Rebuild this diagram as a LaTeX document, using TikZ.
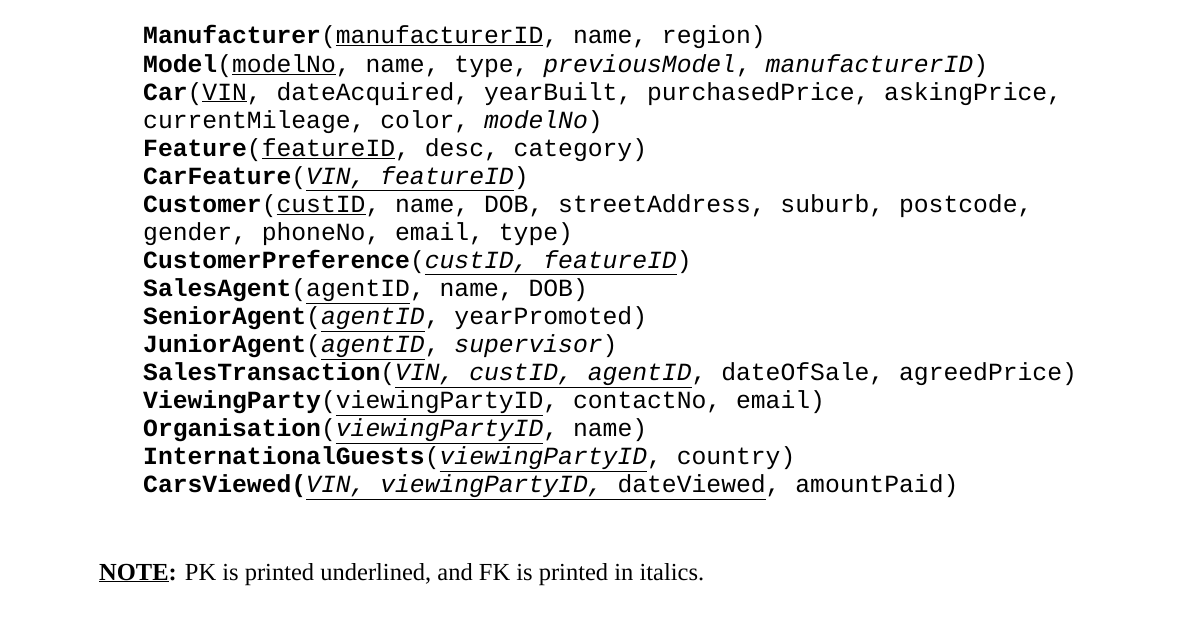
\documentclass[tikz,border=0pt]{standalone}
\usepackage{fontspec}
\setmainfont{Liberation Serif}
\setmonofont{Liberation Mono}
\begin{document}
\begin{tikzpicture}[x=1pt,y=1pt,
  rel/.style={anchor=base west,inner sep=0pt,font=\fontsize{24.7}{28}\ttfamily},
  note/.style={anchor=base west,inner sep=0pt,font=\fontsize{24.5}{28}\rmfamily}]
\useasboundingbox (0,0) rectangle (1204,-642);
\def\ls{28.06}
\def\by{-44}
\node[rel] (l1) at (143,\by) {\textbf{Manufacturer}(\underline{manufacturerID}, name, region)};
\node[rel] (l2) at (143,\by-1*\ls) {\textbf{Model}(\underline{modelNo}, name, type, \textit{previousModel}, \textit{manufacturerID})};
\node[rel] (l3) at (143,\by-2*\ls) {\textbf{Car}(\underline{VIN}, dateAcquired, yearBuilt, purchasedPrice, askingPrice,};
\node[rel] (l4) at (143,\by-3*\ls) {currentMileage, color, \textit{modelNo})};
\node[rel] (l5) at (143,\by-4*\ls) {\textbf{Feature}(\underline{featureID}, desc, category)};
\node[rel] (l6) at (143,\by-5*\ls) {\textbf{CarFeature}(\underline{\textit{VIN, featureID}})};
\node[rel] (l7) at (143,\by-6*\ls) {\textbf{Customer}(\underline{custID}, name, DOB, streetAddress, suburb, postcode,};
\node[rel] (l8) at (143,\by-7*\ls) {gender, phoneNo, email, type)};
\node[rel] (l9) at (143,\by-8*\ls) {\textbf{CustomerPreference}(\underline{\textit{custID, featureID}})};
\node[rel] (l10) at (143,\by-9*\ls) {\textbf{SalesAgent}(\underline{agentID}, name, DOB)};
\node[rel] (l11) at (143,\by-10*\ls) {\textbf{SeniorAgent}(\underline{\textit{agentID}}, yearPromoted)};
\node[rel] (l12) at (143,\by-11*\ls) {\textbf{JuniorAgent}(\underline{\textit{agentID}}, \textit{supervisor})};
\node[rel] (l13) at (143,\by-12*\ls) {\textbf{SalesTransaction}(\underline{\textit{VIN, custID, agentID}}, dateOfSale, agreedPrice)};
\node[rel] (l14) at (143,\by-13*\ls) {\textbf{ViewingParty}(\underline{viewingPartyID}, contactNo, email)};
\node[rel] (l15) at (143,\by-14*\ls) {\textbf{Organisation}(\underline{\textit{viewingPartyID}}, name)};
\node[rel] (l16) at (143,\by-15*\ls) {\textbf{InternationalGuests}(\underline{\textit{viewingPartyID}}, country)};
\node[rel] (l17) at (143,\by-16*\ls) {\textbf{CarsViewed(}\underline{\textit{VIN, viewingPartyID,} dateViewed}, amountPaid)};
\node[note] (n) at (99,-580) {\textbf{\underline{NOTE}:} PK is printed underlined, and FK is printed in italics.};
\end{tikzpicture}
\end{document}
